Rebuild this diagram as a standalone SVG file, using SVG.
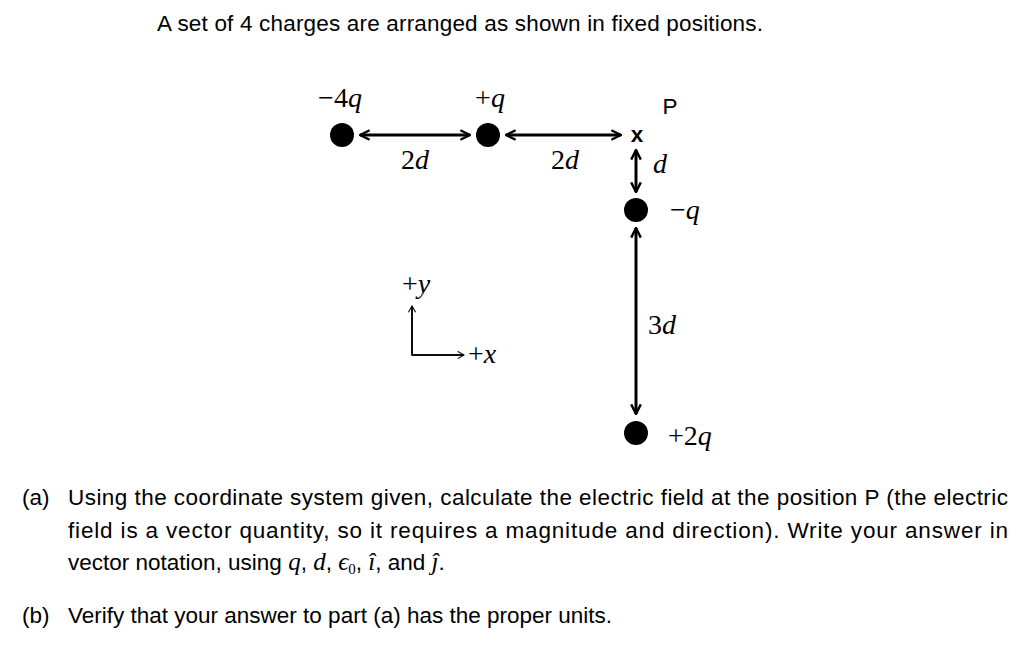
<svg xmlns="http://www.w3.org/2000/svg" width="1024" height="648" viewBox="0 0 1024 648">
<style>
.s{font-family:"Liberation Sans","DejaVu Sans",sans-serif;font-size:22.5px;fill:#000}
.m{font-family:"Liberation Serif","DejaVu Serif",serif;font-size:28px;fill:#000}
.i{font-style:italic}
.ln{stroke:#000;stroke-width:3;fill:none}
.ax{stroke:#000;stroke-width:1.5;fill:none}
</style>
<defs>
<marker id="a" viewBox="0 0 10 10" refX="9" refY="5" markerWidth="4" markerHeight="4" orient="auto-start-reverse"><path d="M1,1 L9,5 L1,9" fill="none" stroke="#000" stroke-width="2"/></marker>
<marker id="b" viewBox="0 0 10 10" refX="9" refY="5" markerWidth="6" markerHeight="6" orient="auto"><path d="M2,1 L9,5 L2,9" fill="none" stroke="#000" stroke-width="1.2"/></marker>
</defs>
<rect width="1024" height="648" fill="#fff"/>
<text class="s" x="157" y="31" textLength="606">A set of 4 charges are arranged as shown in fixed positions.</text>
<g id="q1"><circle cx="342" cy="135" r="12"/><text class="m" x="340" y="107" text-anchor="middle">−4<tspan class="i">q</tspan></text></g>
<g id="q2"><circle cx="488" cy="135" r="12"/><text class="m" x="490" y="107" text-anchor="middle">+<tspan class="i">q</tspan></text></g>
<g id="P"><text class="s" x="637" y="142" text-anchor="middle" font-weight="bold" font-size="17">x</text><text class="s" x="670" y="114" text-anchor="middle" font-size="24">P</text></g>
<g id="q3"><circle cx="636" cy="210" r="12"/><text class="m" x="670" y="219"><tspan>−</tspan><tspan class="i">q</tspan></text></g>
<g id="q4"><circle cx="636" cy="433" r="12"/><text class="m" x="668" y="445">+2<tspan class="i">q</tspan></text></g>
<g id="connectors">
<line class="ln" x1="360" y1="135" x2="470" y2="135" marker-start="url(#a)" marker-end="url(#a)"/>
<line class="ln" x1="506" y1="135" x2="621" y2="135" marker-start="url(#a)" marker-end="url(#a)"/>
<line class="ln" x1="636" y1="150" x2="636" y2="192" marker-start="url(#a)" marker-end="url(#a)"/>
<line class="ln" x1="636" y1="228" x2="636" y2="414" marker-start="url(#a)" marker-end="url(#a)"/>
</g>
<g id="labels">
<text class="m" x="415" y="169" text-anchor="middle">2<tspan class="i">d</tspan></text>
<text class="m" x="565" y="169" text-anchor="middle">2<tspan class="i">d</tspan></text>
<text class="m i" x="653" y="173">d</text>
<text class="m" x="648" y="334">3<tspan class="i">d</tspan></text>
</g>
<g id="axes">
<path class="ax" d="M412,308 L412,355 L462,355" />
<line class="ax" x1="412" y1="355" x2="412" y2="306" marker-end="url(#b)"/>
<line class="ax" x1="412" y1="355" x2="464" y2="355" marker-end="url(#b)"/>
<text class="m" x="402" y="293" font-size="24">+<tspan class="i">y</tspan></text>
<text class="m" x="468" y="363" font-size="24">+<tspan class="i">x</tspan></text>
</g>
<text class="s" x="22" y="505">(a)</text>
<text class="s" x="68" y="505" textLength="940">Using the coordinate system given, calculate the electric field at the position P (the electric</text>
<text class="s" x="68" y="538" textLength="940">field is a vector quantity, so it requires a magnitude and direction). Write your answer in</text>
<text class="s" x="68" y="570">vector notation, using <tspan font-family="Liberation Serif" font-style="italic" font-size="25">q</tspan>, <tspan font-family="Liberation Serif" font-style="italic" font-size="25">d</tspan>, <tspan font-family="Liberation Serif" font-style="italic" font-size="25">ϵ</tspan><tspan font-family="Liberation Serif" font-size="15" dy="4">0</tspan><tspan dy="-4">, </tspan><tspan font-family="Liberation Serif" font-style="italic" font-size="25">î</tspan>, and <tspan font-family="Liberation Serif" font-style="italic" font-size="25">ĵ</tspan>.</text>
<text class="s" x="22" y="623">(b)</text>
<text class="s" x="68" y="623">Verify that your answer to part (a) has the proper units.</text>
</svg>
